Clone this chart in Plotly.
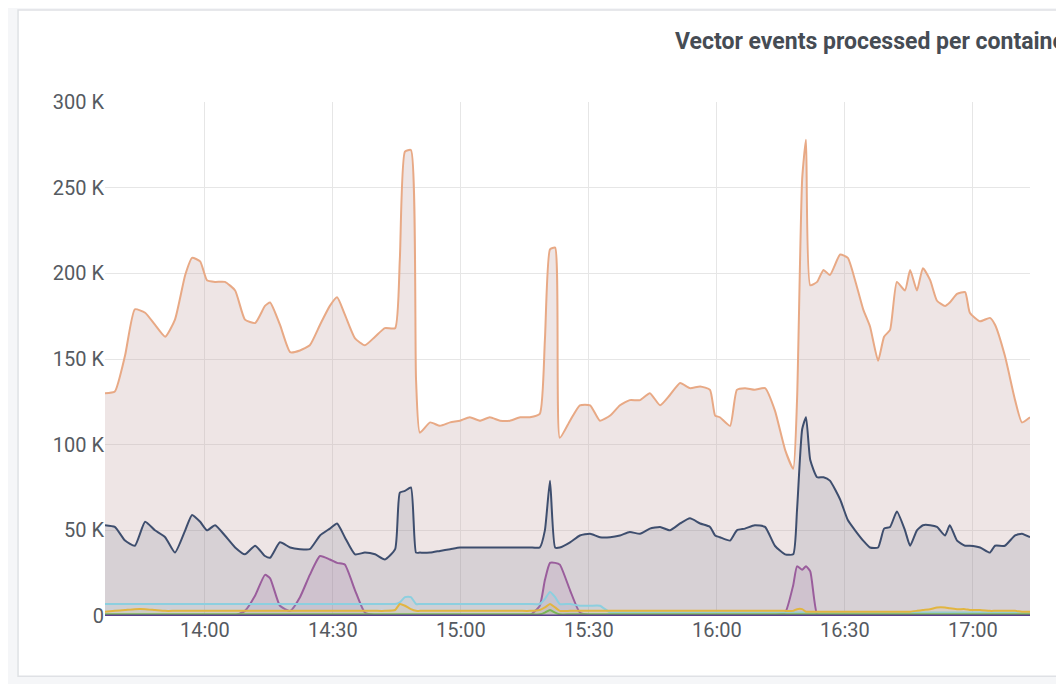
import plotly.graph_objects as go
import pandas as pd

minutes = [36.6,38.9,41.3,43.6,46.0,48.3,50.7,53.0,55.4,57.0,58.9,60.5,62.4,64.7,67.1,69.4,71.8,74.1,75.3,77.6,80.0,82.3,84.6,87.0,89.3,91.0,92.8,95.2,97.5,99.9,102.2,104.6,105.7,106.9,108.3,109.5,110.4,112.8,115.1,117.5,119.8,122.1,124.5,126.8,129.2,131.5,133.9,136.2,138.5,139.7,140.9,142.1,143.2,145.6,147.9,150.3,152.6,155.0,157.3,159.6,162.0,164.3,166.7,169.0,171.4,173.7,176.1,178.4,179.6,180.7,183.1,184.7,186.6,188.9,191.3,193.6,196.0,197.9,198.8,200.0,200.9,201.9,203.5,205.0,206.5,208.9,210.7,212.4,214.3,215.9,217.8,219.2,220.6,222.2,224.1,225.3,226.9,228.3,230.0,231.6,233.5,234.6,236.3,238.2,239.3,241.7,244.0,245.2,247.5,249.9,251.5,253.4]

orange = [130,131,152,179,177,170,163,173,199,209,207,196,195,195,190,173,171,181,183,170,154,155,158,170,181,186,176,162,158,163,168,168,208,271,272,138,107,113,111,113,114,116,114,116,114,114,116,116,118,161,214,215,104,114,123,123,114,117,123,126,126,130,123,129,136,133,134,132,117,116,111,132,133,132,133,120,97,86,126,255,278,193,195,202,199,211,209,196,179,169,149,163,167,195,190,202,190,203,196,184,181,183,188,189,177,172,174,170,152,126,113,116]
navy = [53,52,44,41,55,50,46,37,50,59,55,50,53,47,40,36,41,35,34,43,40,39,39,47,51,54,46,36,37,36,33,39,72,73,75,37,37,37,38,39,40,40,40,40,40,40,40,40,40,50,79,40,40,43,47,48,46,46,47,49,48,51,52,50,54,57,54,52,47,46,44,50,51,53,52,41,36,36,62,109,116,91,81,81,79,68,56,50,44,40,40,51,52,61,50,41,50,53,53,52,47,53,44,41,41,40,37,41,41,47,48,46]
purple = [0.5]*15 + [3,12,24,22,6,3,11,24,35,33,31,30,15,2] + [0.5]*13 + [0.5]*6 + [6,21,31,31,30,15,2] + [0.5]*21 + [2,18,29,27,29,26,1] + [0.5]*29 + [9,18]
cyan = [7]*32 + [8,11,11,7] + [7]*13 + [10,14,11,7,7,6,6,6] + [2]*59
yellow = [2.5,3,3.5,4,4,3.5,3,3,3,3,3,3,3,3,3,3,3,3,3,3,3,3,3,3,3,3,3,3,3,3,3,3.5,7,6,4,3,3,3,3,3,3,3,3,3,3,3,3,3,3.5,5,7,5,3,3,3,3,3,3,3,3,3,3,3,3,3,3,3,3,3,3,3,3,3,3,3,3,3,3,4,4,2.5,2.5,2.5,2.5,2.5,2.5,2.5,2.5,2.5,2.5,2.5,2.5,2.5,2.5,2.5,2.5,3,3.5,4,5,5,4.5,4,4,3.5,3.5,3,3,3,3,2.5,2.5]
green = [1]*49 + [2,3.5,2,1] + [1]*59
dpurple = [0.3]*len(minutes)

series = [
    ("dark purple", dpurple, "#5b3f8c", "rgba(91,63,140,0.1)"),
    ("green", green, "#7ab657", "rgba(122,182,87,0.1)"),
    ("yellow", yellow, "#e2b540", "rgba(226,181,64,0.1)"),
    ("cyan", cyan, "#8ccfdf", "rgba(140,207,223,0.12)"),
    ("purple", purple, "#9a5d9c", "rgba(154,93,156,0.12)"),
    ("navy", navy, "#3e4e6e", "rgba(62,78,110,0.13)"),
    ("orange", orange, "#e8a985", "rgba(200,170,170,0.3)"),
]

base = pd.Timestamp("2024-01-01 13:00")
times = [base + pd.Timedelta(minutes=m) for m in minutes]

fig = go.Figure()
for name, vals, line, fill in reversed(series):
    fig.add_trace(go.Scatter(x=times, y=[v * 1000 for v in vals], name=name, mode="lines",
                             line=dict(color=line, width=2, shape="spline", smoothing=0.5),
                             fill="tozeroy", fillcolor=fill))

tickvals = [0, 50000, 100000, 150000, 200000, 250000, 300000]
ticktext = ["0", "50 K", "100 K", "150 K", "200 K", "250 K", "300 K"]
xt = [base + pd.Timedelta(minutes=m) for m in [60, 90, 120, 150, 180, 210, 240]]

fig.update_layout(
    width=1064, height=684, showlegend=False,
    margin=dict(l=97, r=42, t=94, b=76),
    paper_bgcolor="#f5f6f8", plot_bgcolor="rgba(0,0,0,0)",
    font=dict(family="Roboto", color="#555a61", size=20),
    xaxis=dict(range=[base + pd.Timedelta(minutes=36.6), base + pd.Timedelta(minutes=253.4)],
               tickvals=xt, ticktext=["14:00", "14:30", "15:00", "15:30", "16:00", "16:30", "17:00"],
               showgrid=True, gridcolor="#e6e6e6", zeroline=False, ticks="", showline=False),
    yaxis=dict(range=[0, 300000], tickvals=tickvals, ticktext=ticktext, showgrid=True,
               gridcolor="#e6e6e6", zeroline=False, ticks=""),
    shapes=[dict(type="rect", xref="paper", yref="paper", x0=-0.094, x1=1.2, y0=-0.117, y1=1.179,
                 fillcolor="white", line=dict(color="#dfe1e5", width=1.5), layer="below")],
    annotations=[dict(text="<b>Vector events processed per container</b>", xref="paper", yref="paper",
                      x=(673 - 105) / 925, y=(616 - 42) / 514, xanchor="left", yanchor="middle",
                      showarrow=False, font=dict(size=23, color="#464c54", family="Roboto"))],
)
fig.write_html("out.html")
